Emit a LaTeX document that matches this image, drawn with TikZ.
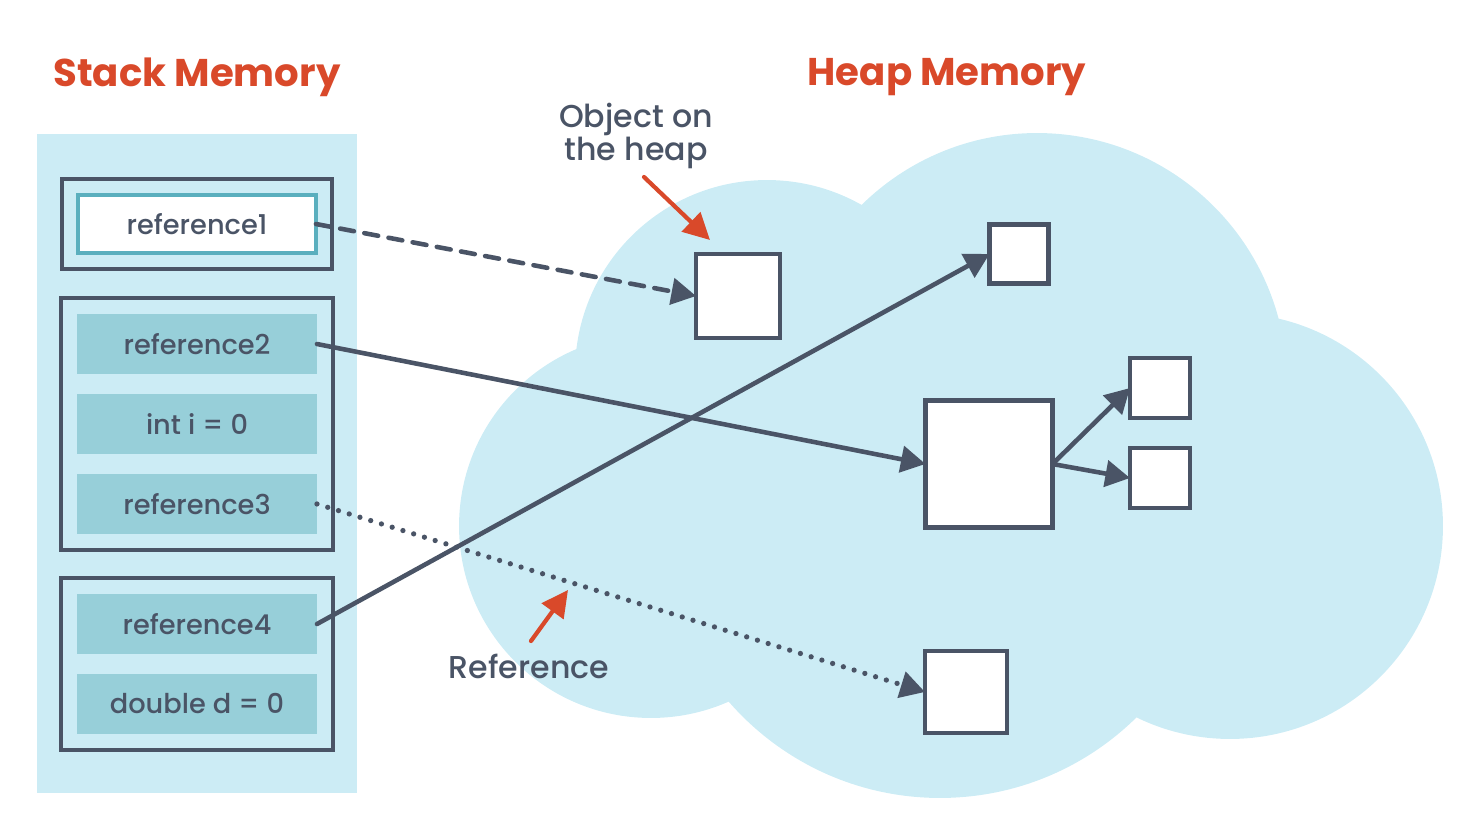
\documentclass[tikz,border=0pt]{standalone}
\usepackage{fontspec}
\setmainfont{Poppins Medium}[BoldFont={Poppins Bold}]
\usetikzlibrary{arrows.meta,positioning,fit}

\definecolor{stackbg}{HTML}{CCECF5}
\definecolor{cellbg}{HTML}{97CFD9}
\definecolor{slate}{HTML}{4A5466}
\definecolor{tealline}{HTML}{5AAFBE}
\definecolor{redline}{HTML}{D9492A}

\begin{document}
\begin{tikzpicture}[x=0.02cm,y=-0.02cm,
  every node/.style={text=slate,font=\fontsize{15.5}{18}\selectfont},
  cell/.style={fill=cellbg,minimum width=4.8cm,minimum height=1.2cm,outer sep=0pt,inner sep=0pt,node distance=0.4cm},
  refbox/.style={cell,fill=white,draw=tealline,line width=2.2pt,minimum width=4.76cm,minimum height=1.16cm},
  frame/.style={draw=slate,line width=2.8pt,inner sep=0.32cm,outer sep=0pt},
  obj/.style={draw=slate,fill=white,line width=2.8pt,outer sep=0pt,inner sep=0pt,minimum size=#1},
  link/.style={draw=slate,line width=2.6pt,line cap=round,-{Triangle[length=14pt,width=15pt]}},
  pointer/.style={draw=redline,line width=2.4pt,line cap=round,-{Triangle[length=15pt,width=15pt]}},
  title/.style={text=redline,font=\fontsize{22}{26}\selectfont\bfseries}]

        \useasboundingbox (0,0) rectangle (1477,821);

        % stack and heap areas
        \fill[stackbg] (37,134) rectangle (357,793);
        \fill[stackbg] (651,526) circle[radius=3.84cm] (767,372) circle[radius=3.84cm]
          (1037,383) circle[radius=5cm] (1230,526) circle[radius=4.26cm]
          (940,518) circle[radius=5.6cm]
          (651,526) -- (767,372) -- (1037,383) -- (1230,526) -- (940,518) -- cycle;

        \node[title] (SM) at (197,77) {Stack Memory};
        \node[title] (HM) at (947,77) {Heap Memory};

        % stack frames
        \node[refbox] (R1) at (197,224) {reference1};
        \node[cell] (R2) at (197,344) {reference2};
        \node[cell,below=of R2] (I) {int i = 0};
        \node[cell,below=of I] (R3) {reference3};
        \node[cell] (R4) at (197,624) {reference4};
        \node[cell,below=of R4] (D) {double d = 0};

        \node[frame,fit=(R1)] (F1) {};
        \node[frame,fit=(R2)(R3)] (F2) {};
        \node[frame,fit=(R4)(D)] (F3) {};

        % objects on the heap
        \node[obj=1.68cm] (OA) at (738,296) {};
        \node[obj=1.18cm] (OB) at (1019,254) {};
        \node[obj=2.54cm] (OC) at (989,464) {};
        \node[obj=1.2cm] (OD) at (1160,388) {};
        \node[obj=1.2cm] (OE) at (1160,478) {};
        \node[obj=1.64cm] (OF) at (966,692) {};

        \draw[link,dash pattern=on 8pt off 6pt] (R1.east) -- (OA.west);
        \draw[link] (R2.east) -- (OC.west);
        \draw[link,line width=3pt,dash pattern=on 0pt off 6.4pt] (R3.east) -- (OF.west);
        \draw[link] (R4.east) -- (OB.west);
        \draw[link] (OC.east) -- (OD.west);
        \draw[link] (OC.east) -- (OE.west);

        % labels
        \node[font=\fontsize{18}{15}\selectfont,align=center] (OL) at (636,136) {Object on\\the heap};
        \coordinate (OT) at (644,177);
        \coordinate (OH) at (710,240);
        \draw[pointer] (OT) -- (OH);
        \node[font=\fontsize{18}{21}\selectfont] (RL) at (529,666) {Reference};
        \coordinate (RT) at (531,641);
        \coordinate (RH) at (568,590);
        \draw[pointer] (RT) -- (RH);
\end{tikzpicture}
\end{document}
